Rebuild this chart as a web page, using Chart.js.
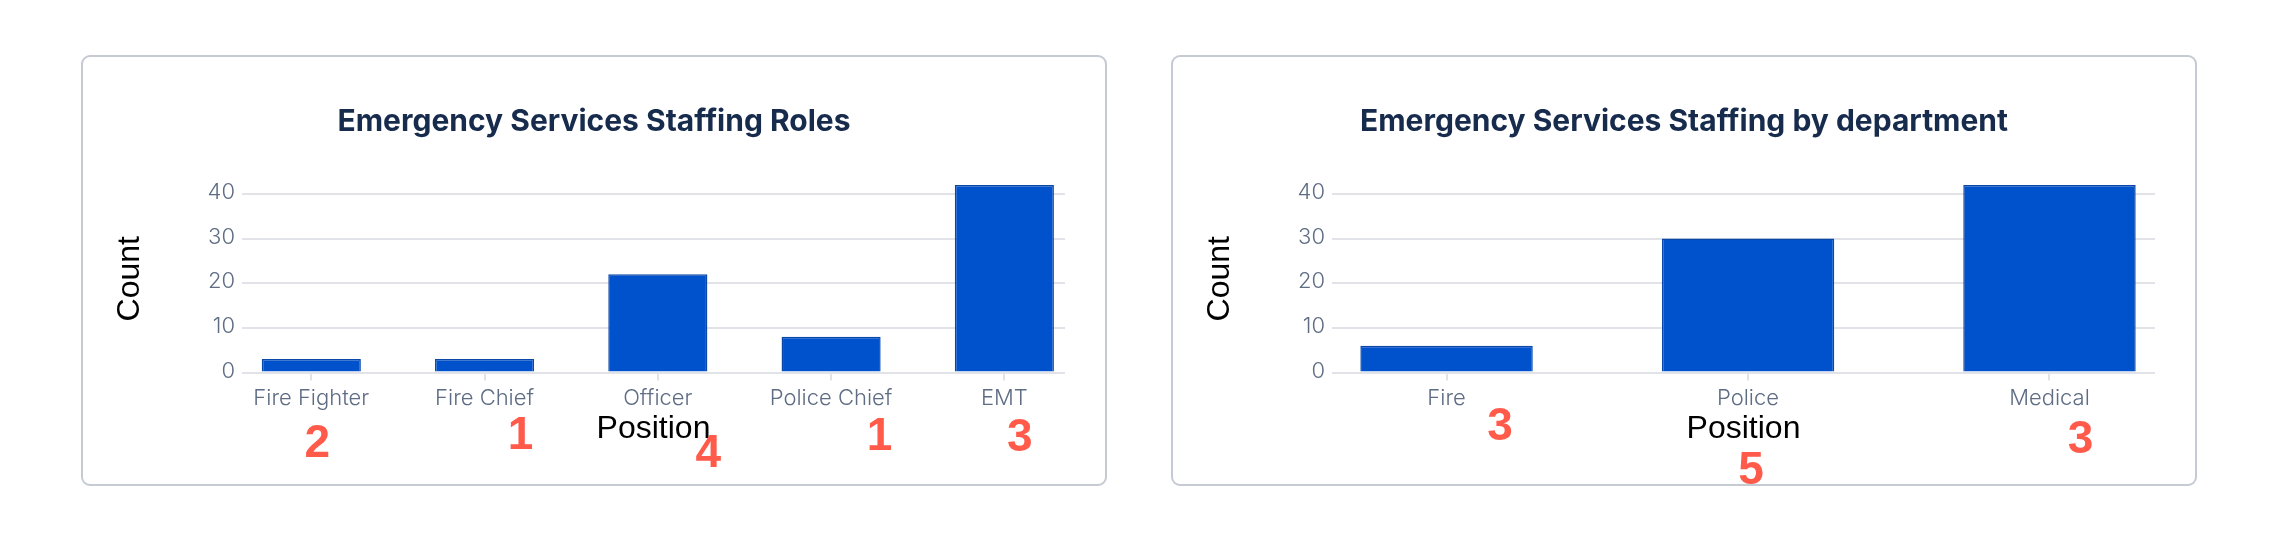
<!DOCTYPE html>
<html>
<head>
<meta charset="utf-8">
<script src="https://cdn.jsdelivr.net/npm/chart.js@4.4.1/dist/chart.umd.min.js"></script>
<style>
  body { margin: 0; background: #fff; width: 2276px; height: 544px; position: relative; overflow: hidden; }
  .card { position: absolute; top: 55px; width: 1026px; height: 431px; border: 2px solid #C5CAD3; border-radius: 9px; box-sizing: border-box; }
  .plot { position: absolute; top: 56px; width: 1024px; height: 449px; }
</style>
</head>
<body>
<div class="card" style="left:81px"></div>
<div class="card" style="left:1171px"></div>
<div class="plot" style="left:82px"><canvas id="rolesChart"></canvas></div>
<div class="plot" style="left:1172px"><canvas id="deptChart"></canvas></div>
<script>
// staffing by role
const roleLabels = ['Fire Fighter', 'Fire Chief', 'Officer', 'Police Chief', 'EMT'];
const roleCounts = [3, 3, 22, 8, 42];
const roleMarks = [2, 1, 4, 1, 3];

// staffing by department
const deptLabels = ['Fire', 'Police', 'Medical'];
const deptCounts = [6, 30, 42];
const deptMarks = [3, 5, 3];

const yTickValues = [0, 10, 20, 30, 40];

const gridColor = '#E1E3E8';
const tickColor = '#5E6C84';
const tickFont = { family: 'Inter', size: 22, weight: 300 };
const axisTitleFont = { family: '"Liberation Sans", Arial, sans-serif', size: 32 };

function makeMarkPlugin(marks, offsets) {
    // red hand-written counts under each category
    return {
        id: 'countMarks',
        afterDraw(chart) {
            const ctx = chart.ctx;
            const x = chart.scales.x;
            const y = chart.scales.y;
            ctx.save();
            ctx.fillStyle = '#FF5A4A';
            ctx.font = 'bold 46px "Liberation Sans", Arial, sans-serif';
            ctx.textAlign = 'center';
            ctx.textBaseline = 'middle';
            for (var i = 0; i < marks.length; i++) {
                ctx.fillText(String(marks[i]), x.getPixelForValue(i) + offsets[i][0], y.getPixelForValue(0) + offsets[i][1]);
            }
            ctx.restore();
        }
    };
}

function buildChart(id, title, labels, counts, marks, xMin, xMax, markOffsets) {
    const ctx = document.getElementById(id).getContext('2d');
    return new Chart(ctx, {
        type: 'bar',
        data: {
            datasets: [{
                data: counts.map((v, i) => ({ x: i, y: v })),
                backgroundColor: '#0052CC',
                borderColor: '#0A47A8',
                borderWidth: 1.5,
                categoryPercentage: 1,
                barPercentage: 0.572,
                clip: 4
            }]
        },
        options: {
            responsive: true,
            maintainAspectRatio: false,
            animation: false,
            layout: { padding: { left: 41, right: 41, top: 0, bottom: 56.8 } },
            plugins: {
                legend: { display: false },
                tooltip: { enabled: false },
                title: {
                    display: true,
                    text: title,
                    color: '#172B4D',
                    font: { family: 'Inter', size: 30, weight: 700 },
                    padding: { top: 48.2, bottom: 44.7 }
                }
            },
            scales: {
                x: {
                    type: 'linear',
                    offset: false,
                    min: xMin,
                    max: xMax,
                    bounds: 'data',
                    afterBuildTicks: (axis) => { axis.ticks = labels.map((_, i) => ({ value: i })); },
                    afterFit: (axis) => { axis.height = 75.7; },
                    grid: { offset: false, drawOnChartArea: false, drawTicks: true, tickLength: 8, color: gridColor, lineWidth: 2 },
                    border: { display: false },
                    ticks: {
                        callback: (v) => labels[v],
                        padding: 4.3,
                        color: tickColor,
                        font: tickFont,
                        maxRotation: 0,
                        autoSkip: false
                    },
                    title: { display: true, text: 'Position', color: '#000', font: axisTitleFont, padding: 0 }
                },
                y: {
                    min: 0,
                    max: Math.max(...counts),
                    bounds: 'data',
                    afterBuildTicks: (axis) => { axis.ticks = yTickValues.map((v) => ({ value: v })); },
                    afterFit: (axis) => { axis.width = 119; },
                    grid: { drawTicks: false, color: gridColor, lineWidth: 2 },
                    border: { display: false },
                    ticks: { padding: 7, labelOffset: -1.5, color: tickColor, font: tickFont },
                    title: { display: true, text: 'Count', color: '#000', font: axisTitleFont, padding: { top: -12.2, bottom: 0 } }
                }
            }
        },
        plugins: [makeMarkPlugin(marks, markOffsets)]
    });
}

buildChart('rolesChart', 'Emergency Services Staffing Roles', roleLabels, roleCounts, roleMarks,
    -0.40, 4.35, [[6, 72], [36, 63.7], [50.4, 81.5], [48.4, 65], [15.5, 66.3]]);

buildChart('deptChart', 'Emergency Services Staffing by department', deptLabels, deptCounts, deptMarks,
    -0.38, 2.35, [[53.5, 55.3], [3, 98.8], [31, 67.5]]);
</script>
</body>
</html>
